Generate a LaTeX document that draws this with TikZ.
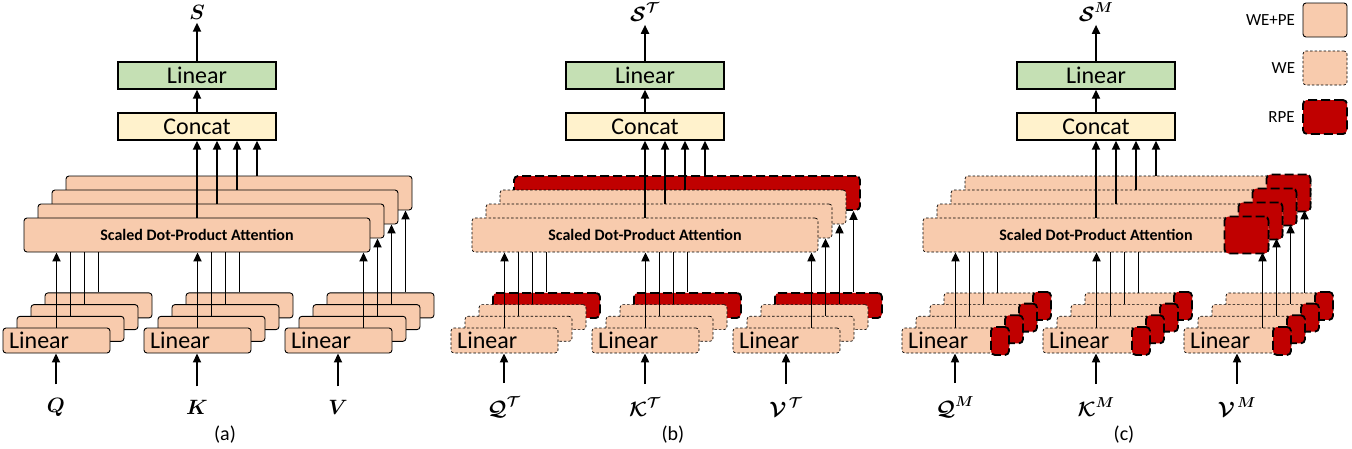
\documentclass[tikz,border=0pt]{standalone}
\usepackage{fontspec}
\setmainfont{Carlito}
\usepackage{amsmath}
\usepackage{bm}
\usetikzlibrary{positioning, arrows.meta, calc}

\definecolor{salmon}{HTML}{F8CBAD}
\definecolor{linegreen}{HTML}{C5E0B4}
\definecolor{catyellow}{HTML}{FFF2CC}
\definecolor{rpered}{HTML}{C00000}

\tikzset{
    wepe/.style={rectangle, draw, fill=salmon, rounded corners=3pt, line width=0.9pt},
    we/.style={rectangle, draw, fill=salmon, rounded corners=3pt, dashed, line width=0.7pt, dash pattern=on 2.5pt off 2pt},
    rpe/.style={rectangle, draw, fill=rpered, rounded corners=4pt, line width=1.8pt, dash pattern=on 9pt off 4pt},
    flat/.style={rectangle, draw, line width=1.3pt, minimum width=158pt, minimum height=27pt, font=\fontsize{24}{24}\selectfont},
    arr/.style={line width=1.8pt, -{Triangle[length=9pt,width=8pt]}},
    thin/.style={line width=0.8pt},
    lbl/.style={font=\fontsize{20}{20}\selectfont},
}

% one attention head panel:
% #1 shift, #2 prefix, #3 front style, #4 back style, #5 squares (0/1),
% #6 output, #7 query, #8 key, #9 value
\newcommand{\headpanel}[9]{%
\begin{scope}[xshift=#1pt, name prefix=#2-]
  \node[flat, fill=linegreen] (lin) at (197,75.5) {Linear};
  \node[flat, fill=catyellow] (cat) at (197,126.5) {Concat};
  \node[lbl] (out) at (197,12) {$#6$};
  \draw[arr] (lin.north) -- (out.south);
  \draw[arr] (cat.north) -- (lin.south);
  % attention layers, back to front
  \foreach \i in {3,2,1,0}{
    \ifnum\i=3 \def\sty{#4}\else\def\sty{#3}\fi
    \node[\sty, minimum width=346pt, minimum height=34pt] (a\i) at (197+14*\i,235-14*\i) {};
    \ifnum#5=1
      \node[rpe, minimum width=44pt, minimum height=37pt] (ra\i) at (347.5+14*\i,235-14*\i) {};
    \fi
  }
  \node[font=\bfseries\fontsize{16}{16}\selectfont] at (a0) {Scaled Dot-Product Attention};
  % linear layers of Q, K, V
  \foreach \g/\inp in {0/#7,1/#8,2/#9}{
    \foreach \i in {3,2,1,0}{
      \ifnum\i=3 \def\sty{#4}\else\def\sty{#3}\fi
      \node[\sty, minimum width=107pt, minimum height=25pt] (l\g\i) at (56.5+141*\g+14*\i,340.5-11.7*\i) {};
      \ifnum#5=1
        \node[rpe, minimum width=18pt, minimum height=28pt] (rl\g\i) at (101+141*\g+14*\i,341-11.7*\i) {};
      \fi
    }
    \node[font=\fontsize{24}{24}\selectfont, anchor=west] at ([xshift=3pt]l\g0.west) {Linear};
    \node[lbl] (in\g) at (56+141*\g,407) {$\inp$};
    \draw[arr] ([yshift=10pt]in\g.north) -- (l\g0.south -| in\g.north);
  }
  % Q and K into the front layer
  \foreach \g in {0,1}{
    \draw[arr] (l\g0.north) -- (l\g0.north |- a0.south);
    \foreach \i in {1,2,3}
      \draw[thin] (l\g\i.north) -- (l\g\i.north |- a0.south);
  }
  % V into every layer
  \foreach \i in {0,1,2,3}{
    \path ([xshift=25pt]l2\i.north) coordinate (v\i);
    \draw[arr] (v\i) -- (v\i |- a\i.south);
  }
  % heads into concat
  \foreach \i in {0,1,2,3}{
    \path ([xshift=6*\i pt]a\i.north) coordinate (h\i);
    \draw[arr] (h\i) -- (h\i |- cat.south);
  }
\end{scope}}

\begin{document}
\begin{tikzpicture}[x=1pt, y=-1pt]
  \useasboundingbox (0,0) rectangle (1352,448);

  \headpanel{0}{pa}{wepe}{wepe}{0}{\bm{S}}{\bm{Q}}{\bm{K}}{\bm{V}}
  \headpanel{448}{pb}{we}{rpe}{0}{\bm{\mathcal{S}}^{\bm{\mathcal{T}}}}{\bm{\mathcal{Q}}^{\bm{\mathcal{T}}}}{\bm{\mathcal{K}}^{\bm{\mathcal{T}}}}{\bm{\mathcal{V}}^{\,\bm{\mathcal{T}}}}
  \headpanel{899}{pc}{we}{we}{1}{\bm{\mathcal{S}}^{\bm{M}}}{\bm{\mathcal{Q}}^{\bm{M}}}{\bm{\mathcal{K}}^{\bm{M}}}{\bm{\mathcal{V}}^{\,\bm{M}}}

  \node[lbl] (capa) at (225,435) {(a)};
  \node[lbl] (capb) at (673,435) {(b)};
  \node[lbl] (capc) at (1124,435) {(c)};

  % legend
  \node[wepe, minimum width=44pt, minimum height=34pt] (kwepe) at (1325,20) {};
  \node[we, minimum width=44pt, minimum height=34pt] (kwe) at (1325,68) {};
  \node[rpe, minimum width=44pt, minimum height=34pt] (krpe) at (1325,117) {};
  \node[font=\fontsize{17}{17}\selectfont, left=4pt of kwepe] {WE+PE};
  \node[font=\fontsize{17}{17}\selectfont, left=4pt of kwe] {WE};
  \node[font=\fontsize{17}{17}\selectfont, left=4pt of krpe] {RPE};
\end{tikzpicture}
\end{document}
